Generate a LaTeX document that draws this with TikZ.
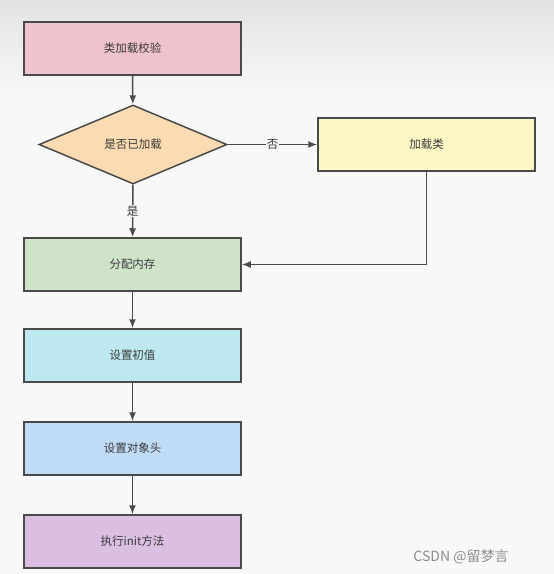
\documentclass[tikz,border=0pt]{standalone}
\usepackage{fontspec}
\setmainfont{Noto Sans CJK SC}
\usetikzlibrary{arrows.meta,shapes.geometric}
\definecolor{pinkbox}{HTML}{EFC3CB}
\definecolor{orangedia}{HTML}{FBDCB2}
\definecolor{yellowbox}{HTML}{FDF6C5}
\definecolor{greenbox}{HTML}{CFE3C8}
\definecolor{cyanbox}{HTML}{BDE8EF}
\definecolor{bluebox}{HTML}{C0DBF6}
\definecolor{purplebox}{HTML}{DBBFE2}
\definecolor{edgegray}{HTML}{4A4A4A}
\definecolor{textgray}{HTML}{3A3A3A}
\definecolor{bggray}{HTML}{F8F8F8}
\tikzset{
    line cap=round,line join=round,
    flowbox/.style={draw=edgegray, line width=1.5pt, rectangle,
        minimum width=217pt, minimum height=53pt, inner sep=0pt,
        text=textgray, font=\fontsize{11.5}{13}\selectfont},
    flowdia/.style={flowbox, diamond, aspect=2.4, fill=orangedia,
        minimum width=188pt, minimum height=79pt},
    flowline/.style={draw=edgegray, line width=1.5pt,
        -{Latex[length=9pt,width=7pt]}},
    flowlabel/.style={fill=bggray, inner sep=1pt, text=textgray,
        font=\fontsize{11.5}{13}\selectfont},
}
\begin{document}
\begin{tikzpicture}[x=1pt,y=-1pt]
    % background
    \useasboundingbox (0,0) rectangle (554,574);
    \fill[bggray] (0,0) rectangle (554,574);
    \shade[top color=black!11, bottom color=bggray] (0,0) rectangle (554,95);

    \node[flowbox, fill=pinkbox] (check) at (132.5,48.5) {类加载校验};
    \node[flowdia] (loaded) at (133,144.5) {是否已加载};
    \node[flowbox, fill=yellowbox] (load) at (426.5,144.5) {加载类};
    \node[flowbox, fill=greenbox] (mem) at (132.5,264.5) {分配内存};
    \node[flowbox, fill=cyanbox] (zero) at (132.5,355.5) {设置初值};
    \node[flowbox, fill=bluebox] (head) at (132.5,448.5) {设置对象头};
    \node[flowbox, fill=purplebox] (init) at (132.5,541.5) {执行init方法};

    \draw[flowline] (check) -- (loaded);
    \draw[flowline] (loaded) -- node[flowlabel] {否} (load);
    \draw[flowline] (loaded) -- node[flowlabel] {是} (mem);
    \draw[flowline] (load.south) |- (mem.east);
    \draw[flowline] (mem) -- (zero);
    \draw[flowline] (zero) -- (head);
    \draw[flowline] (head) -- (init);

    \node[text=black!45, font=\fontsize{14}{16}\selectfont] (csdn) at (461,557) {CSDN @留梦言};
\end{tikzpicture}
\end{document}
